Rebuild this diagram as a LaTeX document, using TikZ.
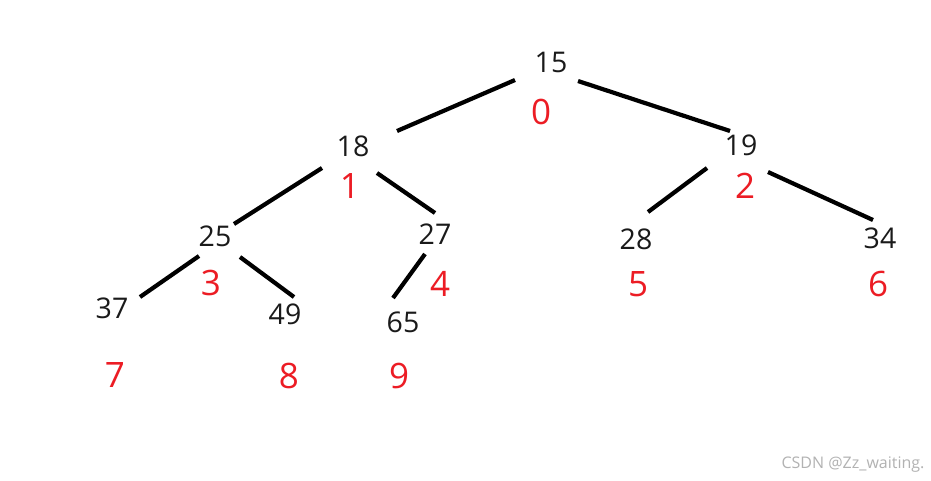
\documentclass[tikz,border=0pt]{standalone}
\usepackage{fontspec}
\setmainfont{Open Sans}
\definecolor{idxred}{RGB}{236,28,36}
\definecolor{valblack}{RGB}{26,26,26}
\definecolor{wmgray}{RGB}{178,178,178}
\begin{document}
\begin{tikzpicture}[x=1pt,y=-1pt,
  val/.style={text=valblack,font=\fontsize{28.5}{32}\selectfont,inner sep=0pt},
  idx/.style={text=idxred,font=\fontsize{35}{40}\selectfont,inner sep=0pt},
  edge/.style={line width=4.2pt,black}]
\useasboundingbox (0,0) rectangle (931,480);
\fill[white] (0,0) rectangle (931,480);
% values
\node[val] (v15) at (551,62) {15};
\node[val] (v18) at (353,146) {18};
\node[val] (v19) at (741,145) {19};
\node[val] (v25) at (215,236) {25};
\node[val] (v27) at (435,234) {27};
\node[val] (v28) at (636,239) {28};
\node[val] (v34) at (880,238) {34};
\node[val] (v37) at (112,308) {37};
\node[val] (v49) at (285,314) {49};
\node[val] (v65) at (403,322) {65};
% indices
\node[idx] (i0) at (541,112) {0};
\node[idx] (i1) at (350,186) {1};
\node[idx] (i2) at (745,186) {2};
\node[idx] (i3) at (211,283) {3};
\node[idx] (i4) at (440,284) {4};
\node[idx] (i5) at (638,284) {5};
\node[idx] (i6) at (878,284) {6};
\node[idx] (i7) at (115,375) {7};
\node[idx] (i8) at (289,376) {8};
\node[idx] (i9) at (399,376) {9};
% edge end points
\coordinate (a1) at (515,80);  \coordinate (b1) at (397,131);
\coordinate (a2) at (578,81);  \coordinate (b2) at (730,131);
\coordinate (a3) at (322,168); \coordinate (b3) at (234,224);
\coordinate (a4) at (377,173); \coordinate (b4) at (435,213);
\coordinate (a5) at (707,168); \coordinate (b5) at (648,212);
\coordinate (a6) at (768,172); \coordinate (b6) at (873,220);
\coordinate (a7) at (199,256); \coordinate (b7) at (140,297);
\coordinate (a8) at (240,257); \coordinate (b8) at (294,297);
\coordinate (a9) at (425,254); \coordinate (b9) at (393,298);
\foreach \s/\t in {a1/b1,a2/b2,a3/b3,a4/b4,a5/b5,a6/b6,a7/b7,a8/b8,a9/b9}
  \draw[edge] (\s) -- (\t);
% watermark
\node[text=wmgray,font=\fontsize{16}{18}\selectfont,inner sep=0pt] (wm) at (853,465) {CSDN @Zz\_waiting.};
\end{tikzpicture}
\end{document}
